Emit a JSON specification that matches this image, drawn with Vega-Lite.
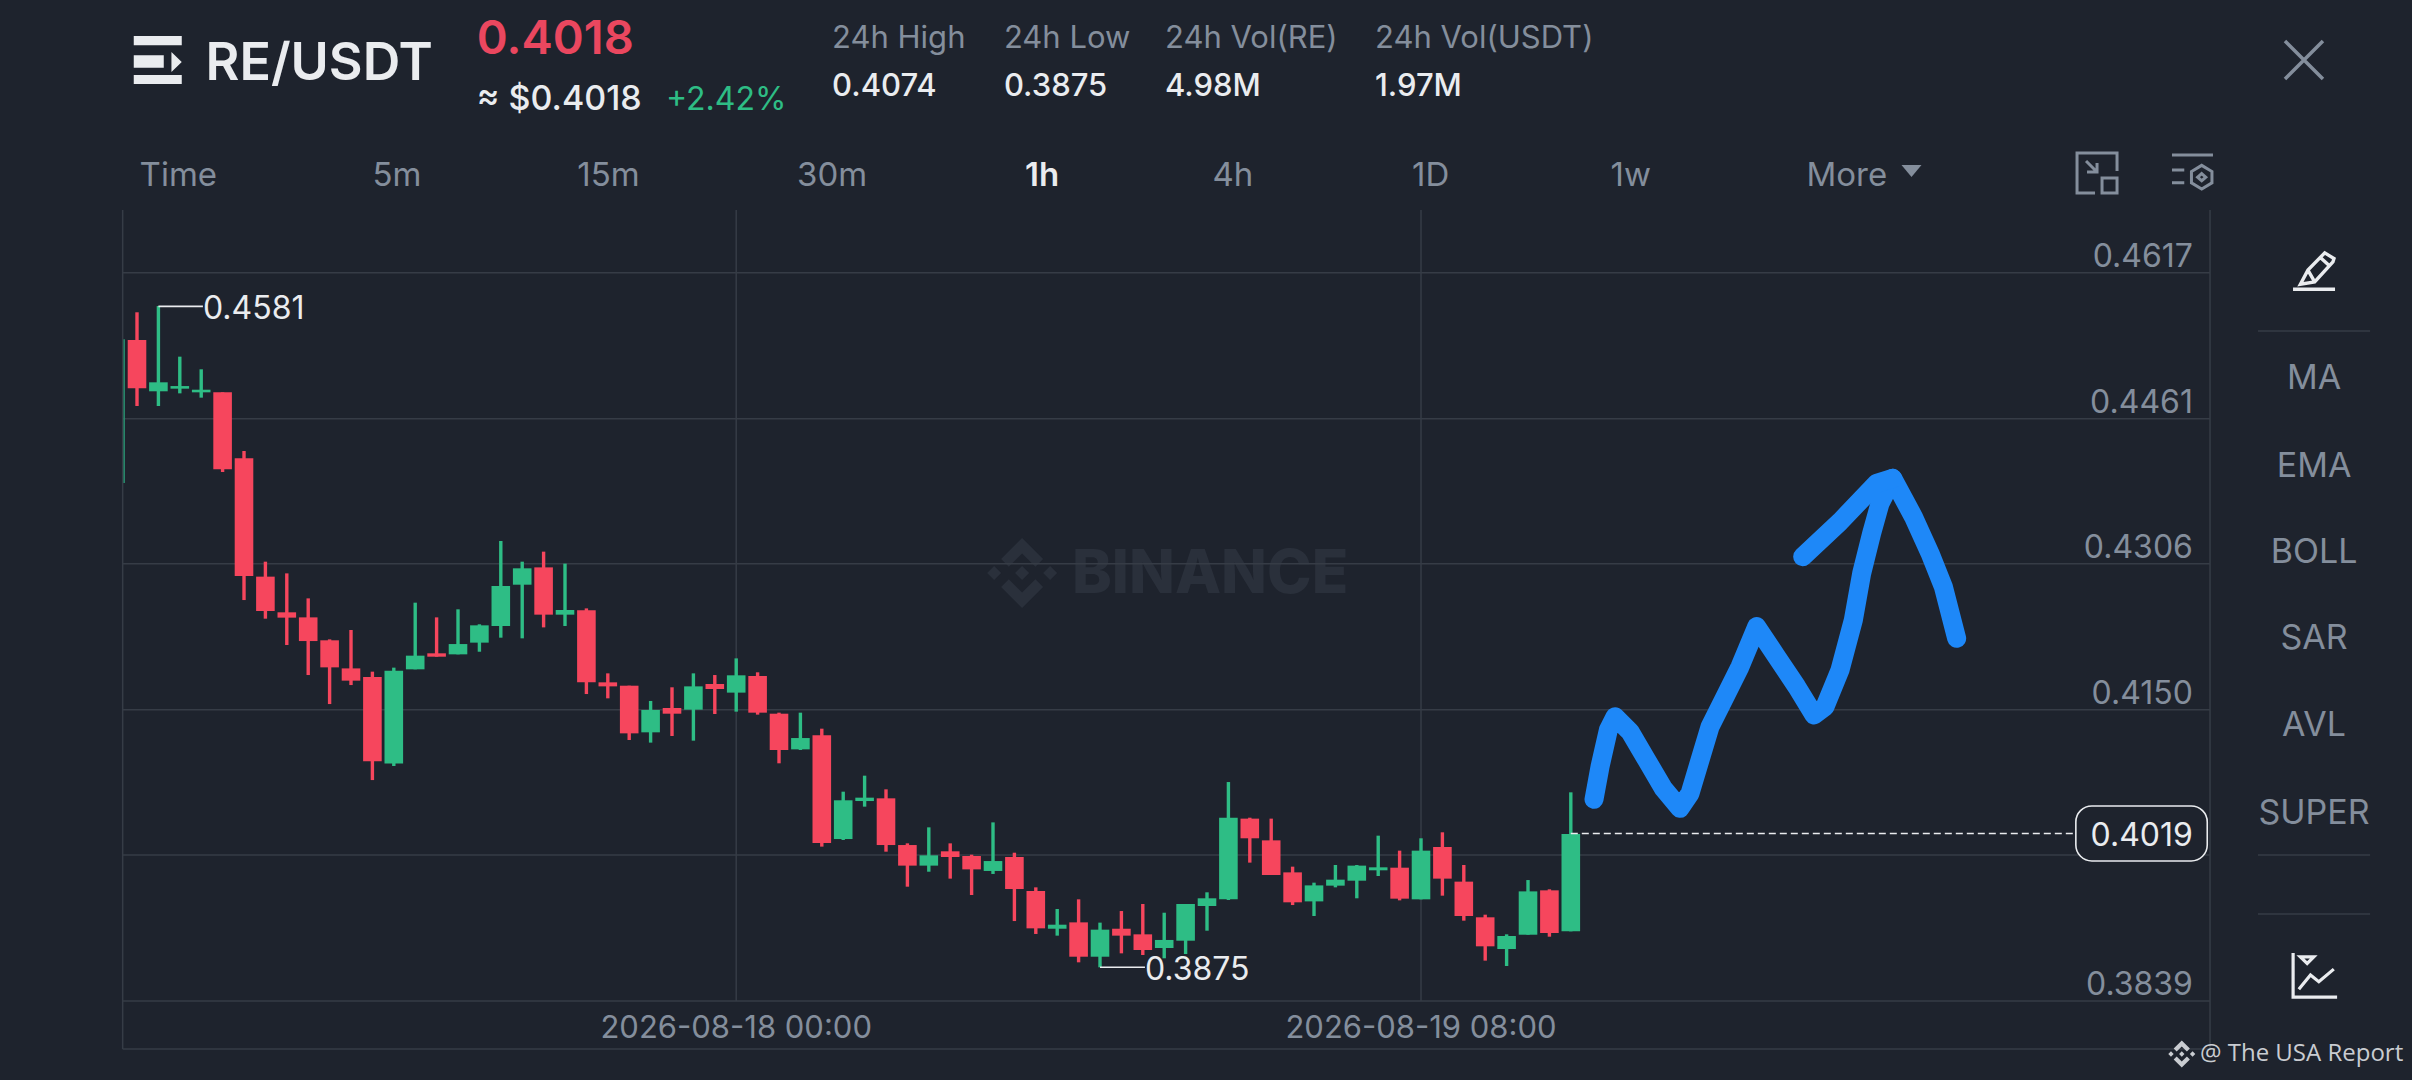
{
  "$schema": "https://vega.github.io/schema/vega-lite/v6.json",
  "autosize": {"type": "none"},
  "width": 2412,
  "height": 1080,
  "padding": 0,
  "background": "#1e232d",
  "view": {"stroke": null},
  "config": {"font": "Inter", "text": {"font": "Inter"}},
  "datasets": {
    "candles": [
      {"slot":0,"open":0.45451,"close":0.44935,"high":0.45747,"low":0.44746},
      {"slot":1,"open":0.44903,"close":0.44999,"high":0.45814,"low":0.44746},
      {"slot":2,"open":0.44931,"close":0.44959,"high":0.45273,"low":0.44881},
      {"slot":3,"open":0.44892,"close":0.4492,"high":0.45138,"low":0.44835},
      {"slot":4,"open":0.44892,"close":0.44069,"high":0.44892,"low":0.44041},
      {"slot":5,"open":0.44187,"close":0.4293,"high":0.44265,"low":0.42673},
      {"slot":6,"open":0.42923,"close":0.42556,"high":0.43083,"low":0.42474},
      {"slot":7,"open":0.42542,"close":0.42485,"high":0.42958,"low":0.42193},
      {"slot":8,"open":0.42488,"close":0.42235,"high":0.42691,"low":0.41872},
      {"slot":9,"open":0.42243,"close":0.41954,"high":0.42253,"low":0.41562},
      {"slot":10,"open":0.41943,"close":0.41812,"high":0.42353,"low":0.41765},
      {"slot":11,"open":0.41851,"close":0.4095,"high":0.41908,"low":0.4075},
      {"slot":12,"open":0.40928,"close":0.41919,"high":0.41951,"low":0.409},
      {"slot":13,"open":0.41933,"close":0.42079,"high":0.42645,"low":0.41933},
      {"slot":14,"open":0.42104,"close":0.42068,"high":0.42488,"low":0.42068},
      {"slot":15,"open":0.42093,"close":0.42203,"high":0.42574,"low":0.42093},
      {"slot":16,"open":0.42218,"close":0.42403,"high":0.42414,"low":0.42121},
      {"slot":17,"open":0.42396,"close":0.42823,"high":0.43304,"low":0.42271},
      {"slot":18,"open":0.42837,"close":0.43012,"high":0.43083,"low":0.42264},
      {"slot":19,"open":0.43022,"close":0.42517,"high":0.4319,"low":0.42381},
      {"slot":20,"open":0.42517,"close":0.42567,"high":0.43062,"low":0.42396},
      {"slot":21,"open":0.42563,"close":0.41794,"high":0.42584,"low":0.41669},
      {"slot":22,"open":0.41794,"close":0.41751,"high":0.4189,"low":0.41623},
      {"slot":23,"open":0.41758,"close":0.41249,"high":0.41758,"low":0.41178},
      {"slot":24,"open":0.4126,"close":0.41499,"high":0.41595,"low":0.4115},
      {"slot":25,"open":0.4152,"close":0.41459,"high":0.41741,"low":0.41221},
      {"slot":26,"open":0.41502,"close":0.41751,"high":0.4189,"low":0.41171},
      {"slot":27,"open":0.41776,"close":0.41723,"high":0.41872,"low":0.41456},
      {"slot":28,"open":0.41684,"close":0.41869,"high":0.4205,"low":0.41481},
      {"slot":29,"open":0.41862,"close":0.4147,"high":0.41901,"low":0.41449},
      {"slot":30,"open":0.41459,"close":0.41071,"high":0.4147,"low":0.40929},
      {"slot":31,"open":0.41078,"close":0.41199,"high":0.4147,"low":0.41071},
      {"slot":32,"open":0.41228,"close":0.40078,"high":0.41299,"low":0.40039},
      {"slot":33,"open":0.4012,"close":0.40534,"high":0.40626,"low":0.4011},
      {"slot":34,"open":0.40526,"close":0.40562,"high":0.40797,"low":0.40466},
      {"slot":35,"open":0.40555,"close":0.40056,"high":0.40651,"low":0.39985},
      {"slot":36,"open":0.40056,"close":0.39836,"high":0.40074,"low":0.39611},
      {"slot":37,"open":0.39836,"close":0.39946,"high":0.40245,"low":0.39771},
      {"slot":38,"open":0.39989,"close":0.39928,"high":0.40074,"low":0.39697},
      {"slot":39,"open":0.39939,"close":0.39796,"high":0.39953,"low":0.39522},
      {"slot":40,"open":0.39779,"close":0.39885,"high":0.40298,"low":0.39747},
      {"slot":41,"open":0.39928,"close":0.39586,"high":0.39974,"low":0.39244},
      {"slot":42,"open":0.39565,"close":0.39166,"high":0.39604,"low":0.39106},
      {"slot":43,"open":0.39162,"close":0.39205,"high":0.39373,"low":0.39088},
      {"slot":44,"open":0.3923,"close":0.38863,"high":0.39476,"low":0.38803},
      {"slot":45,"open":0.38863,"close":0.39152,"high":0.39227,"low":0.3875},
      {"slot":46,"open":0.39162,"close":0.39088,"high":0.39351,"low":0.38899},
      {"slot":47,"open":0.39102,"close":0.38935,"high":0.39426,"low":0.38881},
      {"slot":48,"open":0.38956,"close":0.39042,"high":0.39333,"low":0.38846},
      {"slot":49,"open":0.39034,"close":0.39426,"high":0.39426,"low":0.38892},
      {"slot":50,"open":0.39405,"close":0.39487,"high":0.39551,"low":0.39141},
      {"slot":51,"open":0.39476,"close":0.40348,"high":0.40729,"low":0.39469},
      {"slot":52,"open":0.40338,"close":0.40128,"high":0.40348,"low":0.39868},
      {"slot":53,"open":0.40106,"close":0.39736,"high":0.40338,"low":0.39736},
      {"slot":54,"open":0.39764,"close":0.39444,"high":0.39825,"low":0.39415},
      {"slot":55,"open":0.39454,"close":0.39625,"high":0.39654,"low":0.39298},
      {"slot":56,"open":0.39622,"close":0.39686,"high":0.39843,"low":0.39604},
      {"slot":57,"open":0.39675,"close":0.39836,"high":0.39843,"low":0.39487},
      {"slot":58,"open":0.39786,"close":0.39818,"high":0.40156,"low":0.39725},
      {"slot":59,"open":0.39814,"close":0.39483,"high":0.39996,"low":0.39465},
      {"slot":60,"open":0.39476,"close":0.39996,"high":0.40128,"low":0.39476},
      {"slot":61,"open":0.40035,"close":0.39697,"high":0.40192,"low":0.39515},
      {"slot":62,"open":0.39665,"close":0.39298,"high":0.39843,"low":0.39248},
      {"slot":63,"open":0.39284,"close":0.38974,"high":0.39312,"low":0.38821},
      {"slot":64,"open":0.38945,"close":0.39084,"high":0.39102,"low":0.38764},
      {"slot":65,"open":0.39098,"close":0.39561,"high":0.39682,"low":0.39098},
      {"slot":66,"open":0.39572,"close":0.39116,"high":0.39583,"low":0.39077},
      {"slot":67,"open":0.39134,"close":0.40174,"high":0.40619,"low":0.39134}
    ],
    "levels": [
      {"slot":-0.67,"end":96.87,"price":0.4617},
      {"slot":-0.67,"end":96.87,"price":0.4461},
      {"slot":-0.67,"end":96.87,"price":0.4306},
      {"slot":-0.67,"end":96.87,"price":0.415},
      {"slot":-0.67,"end":96.87,"price":0.3995},
      {"slot":-0.67,"end":96.87,"price":0.3839},
      {"slot":-0.67,"end":96.87,"price":0.37877},
      {"slot":99.11,"end":104.35,"price":0.45547},
      {"slot":99.11,"end":104.35,"price":0.39949},
      {"slot":99.11,"end":104.35,"price":0.39319}
    ],
    "verticals": [
      {"slot":-0.67,"top":0.4684,"bottom":0.37877},
      {"slot":96.87,"top":0.4684,"bottom":0.37877},
      {"slot":28,"top":0.4684,"bottom":0.3839},
      {"slot":60,"top":0.4684,"bottom":0.3839}
    ],
    "sketch": [
      {"stroke":1,"step":1,"slot":68.084,"price":0.40544},
      {"stroke":1,"step":2,"slot":68.365,"price":0.40893},
      {"stroke":1,"step":3,"slot":68.754,"price":0.41285},
      {"stroke":1,"step":4,"slot":69.066,"price":0.41427},
      {"stroke":1,"step":5,"slot":69.767,"price":0.41267},
      {"stroke":1,"step":6,"slot":70.546,"price":0.40964},
      {"stroke":1,"step":7,"slot":71.324,"price":0.40662},
      {"stroke":1,"step":8,"slot":72.103,"price":0.40448},
      {"stroke":1,"step":9,"slot":72.571,"price":0.40608},
      {"stroke":1,"step":10,"slot":73.038,"price":0.40964},
      {"stroke":1,"step":11,"slot":73.505,"price":0.4132},
      {"stroke":1,"step":12,"slot":74.284,"price":0.41676},
      {"stroke":1,"step":13,"slot":74.907,"price":0.41961},
      {"stroke":1,"step":14,"slot":75.686,"price":0.42389},
      {"stroke":1,"step":15,"slot":76.62,"price":0.42068},
      {"stroke":1,"step":16,"slot":77.555,"price":0.41748},
      {"stroke":1,"step":17,"slot":78.365,"price":0.41445},
      {"stroke":1,"step":18,"slot":78.879,"price":0.41534},
      {"stroke":1,"step":19,"slot":79.58,"price":0.41926},
      {"stroke":1,"step":20,"slot":80.203,"price":0.4246},
      {"stroke":1,"step":21,"slot":80.592,"price":0.42958},
      {"stroke":1,"step":22,"slot":81.059,"price":0.43386},
      {"stroke":1,"step":23,"slot":81.449,"price":0.43706},
      {"stroke":1,"step":24,"slot":82.041,"price":0.43973},
      {"stroke":1,"step":25,"slot":83.006,"price":0.43564},
      {"stroke":1,"step":26,"slot":83.785,"price":0.43172},
      {"stroke":1,"step":27,"slot":84.408,"price":0.42816},
      {"stroke":1,"step":28,"slot":85.031,"price":0.42264},
      {"stroke":2,"step":1,"slot":77.835,"price":0.43136},
      {"stroke":2,"step":2,"slot":79.58,"price":0.4351},
      {"stroke":2,"step":3,"slot":81.293,"price":0.4392},
      {"stroke":2,"step":4,"slot":82.041,"price":0.43973}
    ]
  },
  "encoding": {
    "x": {"field": "slot", "type": "quantitative", "axis": null, "scale": {"domain": [-6.402, 106.308], "nice": false, "zero": false, "padding": 0}},
    "y": {"field": "price", "type": "quantitative", "axis": null, "scale": {"domain": [0.37546, 0.49083], "nice": false, "zero": false}}
  },
  "layer": [
    {
      "data": {"values": [{"label": "BINANCE", "slot": 43.69, "price": 0.42962}]},
      "mark": {"type": "text", "align": "left", "baseline": "middle", "dy": 2, "fontSize": 60, "fontWeight": 800, "color": "#2a303b"},
      "encoding": {"text": {"field": "label"}}
    },
    {
      "data": {"values": [{"slot": 41.36, "price": 0.42962}]},
      "mark": {"type": "point", "filled": true, "opacity": 1, "color": "#2a303b", "size": 4900, "shape": "M0 -1L.6 -.4L.38 -.18L0 -.56L-.38 -.18L-.6 -.4ZM0 1L.6 .4L.38 .18L0 .56L-.38 .18L-.6 .4ZM-1 0L-.8 -.2L-.6 0L-.8 .2ZM1 0L.8 -.2L.6 0L.8 .2ZM0 -.2L.2 0L0 .2L-.2 0Z"}
    },
    {
      "data": {"name": "levels"},
      "mark": {"type": "rule", "color": "#363c46", "strokeWidth": 1.5},
      "encoding": {"x2": {"field": "end"}}
    },
    {
      "data": {"name": "verticals"},
      "mark": {"type": "rule", "color": "#363c46", "strokeWidth": 1.5},
      "encoding": {
        "y": {"field": "bottom", "type": "quantitative", "axis": null, "scale": {"domain": [0.37546, 0.49083], "nice": false, "zero": false}},
        "y2": {"field": "top"}
      }
    },
    {
      "data": {"values": [{"slot": -0.6, "low": 0.43923, "high": 0.45458}]},
      "mark": {"type": "rule", "color": "#2a8f70", "strokeWidth": 1.5},
      "encoding": {
        "y": {"field": "low", "type": "quantitative", "axis": null, "scale": {"domain": [0.37546, 0.49083], "nice": false, "zero": false}},
        "y2": {"field": "high"}
      }
    },
    {
      "data": {"name": "candles"},
      "mark": {"type": "rule", "strokeWidth": 3.4},
      "encoding": {
        "y": {"field": "low", "type": "quantitative", "axis": null, "scale": {"domain": [0.37546, 0.49083], "nice": false, "zero": false}},
        "y2": {"field": "high"},
        "color": {"condition": {"test": "datum.close >= datum.open", "value": "#2ebd85"}, "value": "#f6465d"}
      }
    },
    {
      "data": {"name": "candles"},
      "mark": {"type": "bar", "size": 18.6},
      "encoding": {
        "y": {"field": "open", "type": "quantitative", "axis": null, "scale": {"domain": [0.37546, 0.49083], "nice": false, "zero": false}},
        "y2": {"field": "close"},
        "color": {"condition": {"test": "datum.close >= datum.open", "value": "#2ebd85"}, "value": "#f6465d"}
      }
    },
    {
      "data": {"values": [{"slot": 1, "end": 3.08, "price": 0.4581}, {"slot": 45, "end": 47.1, "price": 0.3875}]},
      "mark": {"type": "rule", "color": "#eaecef", "strokeWidth": 1.6},
      "encoding": {"x2": {"field": "end"}}
    },
    {
      "data": {"values": [{"label": "0.4581", "slot": 3.08, "price": 0.4581}, {"label": "0.3875", "slot": 47.1, "price": 0.3875}]},
      "mark": {"type": "text", "align": "left", "baseline": "middle", "dy": 3, "fontSize": 32, "color": "#eaecef"},
      "encoding": {"text": {"field": "label"}}
    },
    {
      "data": {"values": [{"slot": 67, "end": 90.6, "price": 0.4018}]},
      "mark": {"type": "rule", "color": "#eaecef", "strokeWidth": 1.6, "strokeDash": [7, 4]},
      "encoding": {"x2": {"field": "end"}}
    },
    {
      "data": {"name": "sketch"},
      "mark": {"type": "line", "color": "#1e88f8", "strokeWidth": 19, "strokeCap": "round", "strokeJoin": "round"},
      "encoding": {
        "detail": {"field": "stroke"},
        "order": {"field": "step", "type": "quantitative"}
      }
    },
    {
      "data": {"values": [{"slot": 90.6, "end": 96.74, "price": 0.39886, "top": 0.40473}]},
      "mark": {"type": "rect", "fill": "#1e232d", "stroke": "#eaecef", "strokeWidth": 1.6, "cornerRadius": 16},
      "encoding": {"x2": {"field": "end"}, "y2": {"field": "top"}}
    },
    {
      "data": {"values": [{"label": "0.4019", "slot": 96.07, "price": 0.4018}]},
      "mark": {"type": "text", "align": "right", "baseline": "middle", "dy": 3, "fontSize": 32, "color": "#eaecef"},
      "encoding": {"text": {"field": "label"}}
    },
    {
      "data": {"values": [
        {"label": "0.4617", "slot": 96.07, "price": 0.4617},
        {"label": "0.4461", "slot": 96.07, "price": 0.4461},
        {"label": "0.4306", "slot": 96.07, "price": 0.4306},
        {"label": "0.4150", "slot": 96.07, "price": 0.415},
        {"label": "0.3839", "slot": 96.07, "price": 0.3839}
      ]},
      "mark": {"type": "text", "align": "right", "baseline": "middle", "dy": -16, "fontSize": 32, "color": "#848e9c"},
      "encoding": {"text": {"field": "label"}}
    },
    {
      "data": {"values": [
        {"label": "2026-08-18 00:00", "slot": 28, "price": 0.38112},
        {"label": "2026-08-19 08:00", "slot": 60, "price": 0.38112}
      ]},
      "mark": {"type": "text", "align": "center", "baseline": "middle", "dy": 2, "fontSize": 31, "color": "#848e9c"},
      "encoding": {"text": {"field": "label"}}
    },
    {
      "data": {"values": [
        {"label": "RE/USDT", "slot": 3.2, "price": 0.48431}
      ]},
      "mark": {"type": "text", "align": "left", "baseline": "middle", "dy": 3, "fontSize": 52, "fontWeight": 600, "color": "#eaecef"},
      "encoding": {"text": {"field": "label"}}
    },
    {
      "data": {"values": [{"label": "0.4018", "slot": 15.88, "price": 0.48693}]},
      "mark": {"type": "text", "align": "left", "baseline": "middle", "dy": 3, "fontSize": 47, "fontWeight": 600, "color": "#ea475f"},
      "encoding": {"text": {"field": "label"}}
    },
    {
      "data": {"values": [{"label": "≈ $0.4018", "slot": 15.88, "price": 0.48047}]},
      "mark": {"type": "text", "align": "left", "baseline": "middle", "dy": 3, "fontSize": 34, "fontWeight": 500, "color": "#eaecef"},
      "encoding": {"text": {"field": "label"}}
    },
    {
      "data": {"values": [{"label": "+2.42%", "slot": 24.72, "price": 0.48047}]},
      "mark": {"type": "text", "align": "left", "baseline": "middle", "dy": 3, "fontSize": 32, "color": "#2ebd85"},
      "encoding": {"text": {"field": "label"}}
    },
    {
      "data": {"values": [
        {"label": "24h High", "slot": 32.48, "price": 0.48688},
        {"label": "24h Low", "slot": 40.51, "price": 0.48688},
        {"label": "24h Vol(RE)", "slot": 48.04, "price": 0.48688},
        {"label": "24h Vol(USDT)", "slot": 57.85, "price": 0.48688}
      ]},
      "mark": {"type": "text", "align": "left", "baseline": "middle", "dy": 2, "fontSize": 31, "color": "#848e9c"},
      "encoding": {"text": {"field": "label"}}
    },
    {
      "data": {"values": [
        {"label": "0.4074", "slot": 32.48, "price": 0.48175},
        {"label": "0.3875", "slot": 40.51, "price": 0.48175},
        {"label": "4.98M", "slot": 48.04, "price": 0.48175},
        {"label": "1.97M", "slot": 57.85, "price": 0.48175}
      ]},
      "mark": {"type": "text", "align": "left", "baseline": "middle", "dy": 2, "fontSize": 31, "fontWeight": 500, "color": "#eaecef"},
      "encoding": {"text": {"field": "label"}}
    },
    {
      "data": {"values": [
        {"label": "Time", "slot": 1.93, "price": 0.47214},
        {"label": "5m", "slot": 12.15, "price": 0.47214},
        {"label": "15m", "slot": 22.03, "price": 0.47214},
        {"label": "30m", "slot": 32.48, "price": 0.47214},
        {"label": "4h", "slot": 51.21, "price": 0.47214},
        {"label": "1D", "slot": 60.45, "price": 0.47214},
        {"label": "1w", "slot": 69.8, "price": 0.47214},
        {"label": "More", "slot": 79.9, "price": 0.47214}
      ]},
      "mark": {"type": "text", "align": "center", "baseline": "middle", "dy": 1, "fontSize": 33, "color": "#848e9c"},
      "encoding": {"text": {"field": "label"}}
    },
    {
      "data": {"values": [{"label": "1h", "slot": 42.29, "price": 0.47214}]},
      "mark": {"type": "text", "align": "center", "baseline": "middle", "dy": 1, "fontSize": 33, "fontWeight": 600, "color": "#eaecef"},
      "encoding": {"text": {"field": "label"}}
    },
    {
      "data": {"values": [
        {"label": "MA", "slot": 101.73, "price": 0.45056},
        {"label": "EMA", "slot": 101.73, "price": 0.44121},
        {"label": "BOLL", "slot": 101.73, "price": 0.43201},
        {"label": "SAR", "slot": 101.73, "price": 0.42278},
        {"label": "AVL", "slot": 101.73, "price": 0.41344},
        {"label": "SUPER", "slot": 101.73, "price": 0.40412}
      ]},
      "mark": {"type": "text", "align": "center", "baseline": "middle", "dy": 2, "fontSize": 34, "color": "#848e9c"},
      "encoding": {"text": {"field": "label"}}
    },
    {
      "data": {"values": [{"label": "@ The USA Report", "slot": 96.4, "price": 0.37824}]},
      "mark": {"type": "text", "align": "left", "baseline": "middle", "font": "Open Sans", "fontSize": 24, "color": "#c9ccd1"},
      "encoding": {"text": {"field": "label"}}
    },
    {
      "data": {"values": [{"slot": 95.55, "price": 0.37824}]},
      "mark": {"type": "point", "filled": true, "opacity": 1, "color": "#c9ccd1", "size": 729, "shape": "M0 -1L.6 -.4L.38 -.18L0 -.56L-.38 -.18L-.6 -.4ZM0 1L.6 .4L.38 .18L0 .56L-.38 .18L-.6 .4ZM-1 0L-.8 -.2L-.6 0L-.8 .2ZM1 0L.8 -.2L.6 0L.8 .2ZM0 -.2L.2 0L0 .2L-.2 0Z"}
    },
    {
      "data": {"values": [{"slot": 0.97, "price": 0.48442}]},
      "mark": {"type": "point", "filled": true, "opacity": 1, "color": "#eaecef", "size": 2304, "shape": "M-1 -1H1V-.62H-1ZM-1 -.2H.25V.32H-1ZM.57 -.33L1 .08L.57 .5ZM-1 .62H1V1H-1Z"}
    },
    {
      "data": {"values": [{"slot": 82.92, "price": 0.47256}]},
      "mark": {"type": "point", "filled": true, "opacity": 1, "color": "#848e9c", "size": 400, "shape": "M-1 -.6H1L0 .6Z"}
    },
    {
      "data": {"values": [{"slot": 101.26, "price": 0.48442}]},
      "mark": {"type": "point", "filled": false, "opacity": 1, "color": "#848e9c", "strokeWidth": 3.5, "size": 1444, "shape": "M-1 -1L1 1M1 -1L-1 1"}
    },
    {
      "data": {"values": [{"slot": 91.59, "price": 0.47235}]},
      "mark": {"type": "point", "filled": false, "opacity": 1, "color": "#848e9c", "strokeWidth": 3, "size": 1600, "shape": "M-.1 1H-1V-1H1V-.1M-.55 -.6L0 -.05M-.5 -.05H0V-.5M.25 .25H1V1H.25Z"}
    },
    {
      "data": {"values": [{"slot": 96.05, "price": 0.4724}]},
      "mark": {"type": "point", "filled": false, "opacity": 1, "color": "#848e9c", "strokeWidth": 3, "size": 1681, "shape": "M-1 -.85H1M-1 -.12H-.4M-1 .5H-.4M.45 -.35L.95 -.05V.5L.45 .8L-.05 .5V-.05ZM.45 .05L.65 .23L.45 .4L.25 .23Z"}
    },
    {
      "data": {"values": [{"slot": 101.73, "price": 0.46193}]},
      "mark": {"type": "point", "filled": false, "opacity": 1, "color": "#eaecef", "strokeWidth": 3.4, "size": 1764, "shape": "M-.65 .65L-.29 -.02L.51 -.84L.95 -.57L.9 -.41L.03 .54ZM.3 -.62L.72 -.24M-.29 -.02L.03 .54M-1 .89H1"}
    },
    {
      "data": {"values": [{"slot": 101.78, "price": 0.38667}]},
      "mark": {"type": "point", "filled": false, "opacity": 1, "color": "#eaecef", "strokeWidth": 3.2, "size": 1936, "shape": "M-1 -1V1H1M-.74 .65L-.21 0L.17 .3L.85 -.27M-.67 -.83H-.06L-.36 -.53Z"}
    }
  ]
}
